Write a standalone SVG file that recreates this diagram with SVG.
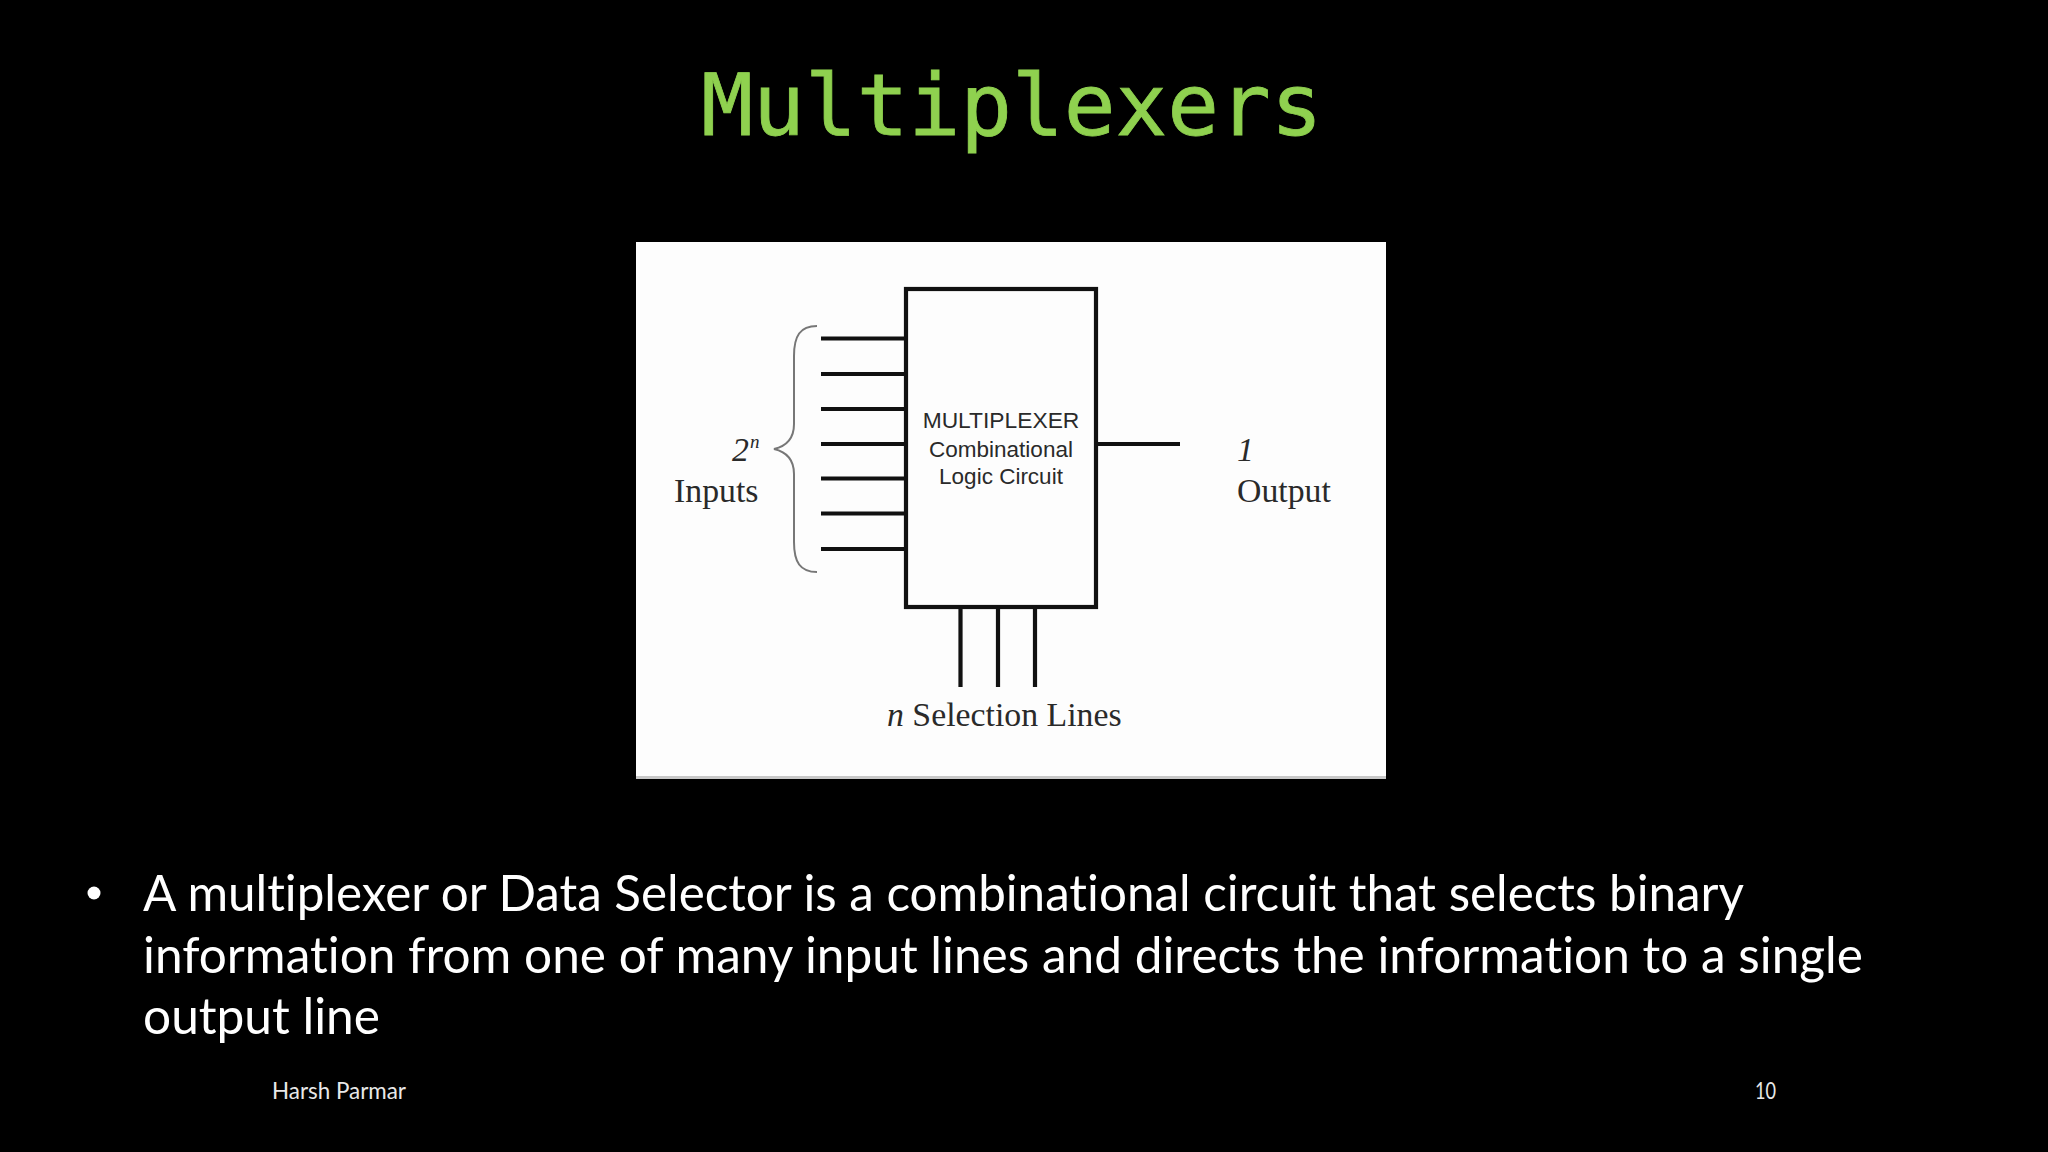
<svg xmlns="http://www.w3.org/2000/svg" width="2048" height="1152" viewBox="0 0 2048 1152">
<style>
.wire{stroke:#111;stroke-width:4.2;fill:none}
.ser{font-family:"Liberation Serif",serif;font-size:33.8px;fill:#2a2a2a}
.it{font-style:italic}
.san{font-family:"Liberation Sans",Arial,sans-serif;font-size:22.5px;fill:#2a2a2a;text-anchor:middle}
.body{font-family:Lato,"Open Sans",sans-serif;font-size:50px;fill:#fff;font-variant-ligatures:none}
.foot{font-family:Lato,"Open Sans",sans-serif;font-size:24px;fill:#e8e8e8;font-variant-ligatures:none}
</style>
<rect width="2048" height="1152" fill="#000"/>
<text id="title" x="1009" y="135" text-anchor="middle" font-family="'DejaVu Sans Mono',monospace" font-size="86" fill="#8fd14f" stroke="#8fd14f" stroke-width="0.8" dx="3">Multiplexers</text>
<rect id="panel" x="636" y="242" width="750" height="537" fill="#fdfdfd"/>
<rect x="636" y="776" width="750" height="3" fill="#c8c8c8"/>
<g id="connectors">
<path class="wire" d="M821 338.500H906M821 374H906M821 409H906M821 444H906M821 478.500H906M821 513.500H906M821 549H906"/>
<path class="wire" d="M1096 444H1180"/>
<path class="wire" d="M960.500 607V687M998 607V687M1035 607V687"/>
</g>
<g id="mux">
<rect x="906" y="289" width="190" height="318" fill="#fdfdfd" stroke="#111" stroke-width="4.200"/>
<text class="san" x="1001" y="428" style="font-size:22.800px">MULTIPLEXER</text>
<text class="san" x="1001" y="457">Combinational</text>
<text class="san" x="1001" y="484">Logic Circuit</text>
</g>
<g id="inputs-label">
<path d="M817 326C800 326 794 336 794 356V424C794 438 787 446 774 449C787 452 794 460 794 474V542C794 562 800 572 817 572" fill="none" stroke="#777" stroke-width="2"/>
<text class="ser it" x="732" y="461">2</text>
<text class="ser it" x="750" y="448" style="font-size:19px">n</text>
<text class="ser" x="674" y="502">Inputs</text>
</g>
<g id="output-label">
<text class="ser it" x="1237" y="461">1</text>
<text class="ser" x="1237" y="502">Output</text>
</g>
<g id="select-label">
<text class="ser" x="887" y="726"><tspan class="it">n</tspan> Selection Lines</text>
</g>
<g id="bullet">
<circle cx="94" cy="893" r="6.500" fill="#fff"/>
<text class="body" x="143" y="911" textLength="1601" lengthAdjust="spacingAndGlyphs">A multiplexer or Data Selector is a combinational circuit that selects binary</text>
<text class="body" x="143" y="973" textLength="1720" lengthAdjust="spacingAndGlyphs">information from one of many input lines and directs the information to a single</text>
<text class="body" x="143" y="1034" textLength="237" lengthAdjust="spacingAndGlyphs">output line</text>
</g>
<g id="footer">
<text class="foot" x="272" y="1099" textLength="134" lengthAdjust="spacingAndGlyphs">Harsh Parmar</text>
<text class="foot" x="1755" y="1099" textLength="21" lengthAdjust="spacingAndGlyphs">10</text>
</g>
</svg>
